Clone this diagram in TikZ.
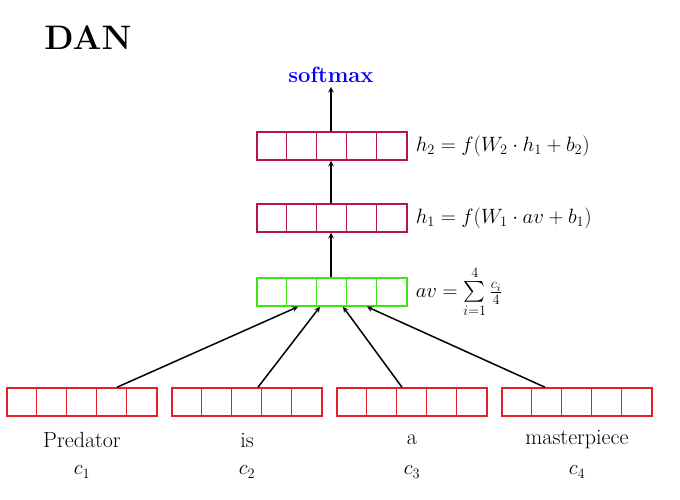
\documentclass[tikz,border=0pt]{standalone}
\usepackage{amsmath}
\usetikzlibrary{positioning}
\definecolor{vecred}{RGB}{230,30,40}
\definecolor{vecgreen}{RGB}{60,230,20}
\definecolor{vecpurple}{RGB}{180,20,80}
\begin{document}
\begin{tikzpicture}[x=1pt,y=-1pt,line width=1.5pt,>=stealth,
  every node/.style={font=\fontsize{22}{26}\selectfont},
  vec/.style={draw,minimum width=150pt,minimum height=28pt,inner sep=0pt},
  lbl/.style={anchor=west,inner sep=0pt}]
\useasboundingbox (0,0) rectangle (680,500);
\node at (88,38) {\fontsize{34}{38}\selectfont\bfseries DAN};
% word vectors
\foreach \i/\x/\w in {1/82/Predator,2/247/is,3/412/a,4/577/masterpiece}{
  \node [vec,vecred] (w\i) at (\x,402) {};
  \foreach \k in {1,...,4}
    \draw [vecred] ([xshift=30*\k pt]w\i.north west) -- ([xshift=30*\k pt]w\i.south west);
  \node (t\i) at (\x,440) {\w};
  \node (c\i) at (\x,472) {$c_{\i}$};
}
% hidden vectors
\foreach \n/\y/\c in {av/292/vecgreen,h1/218/vecpurple,h2/146/vecpurple}{
  \node [vec,\c] (\n) at (332,\y) {};
  \foreach \k in {1,...,4}
    \draw [\c] ([xshift=30*\k pt]\n.north west) -- ([xshift=30*\k pt]\n.south west);
}
\node [lbl] (eav) at (415,292) {$av=\sum\limits_{i=1}^{4}\frac{c_i}{4}$};
\node [lbl] (eh1) at (415,218) {$h_1=f(W_1\cdot av+b_1)$};
\node [lbl] (eh2) at (415,146) {$h_2=f(W_2\cdot h_1+b_2)$};
\node [text=blue] (sm) at (331,75) {\bfseries softmax};
% arrows
\draw [->] ([xshift=35pt]w1.north) -- ([xshift=-34pt]av.south);
\draw [->] ([xshift=11pt]w2.north) -- ([xshift=-12pt]av.south);
\draw [->] ([xshift=-10pt]w3.north) -- ([xshift=11pt]av.south);
\draw [->] ([xshift=-32pt]w4.north) -- ([xshift=35pt]av.south);
\draw [->] ([xshift=-1pt]av.north) -- ([xshift=-1pt]h1.south);
\draw [->] ([xshift=-1pt]h1.north) -- ([xshift=-1pt]h2.south);
\draw [->] ([xshift=-1pt]h2.north) -- (sm.south);
\end{tikzpicture}
\end{document}
